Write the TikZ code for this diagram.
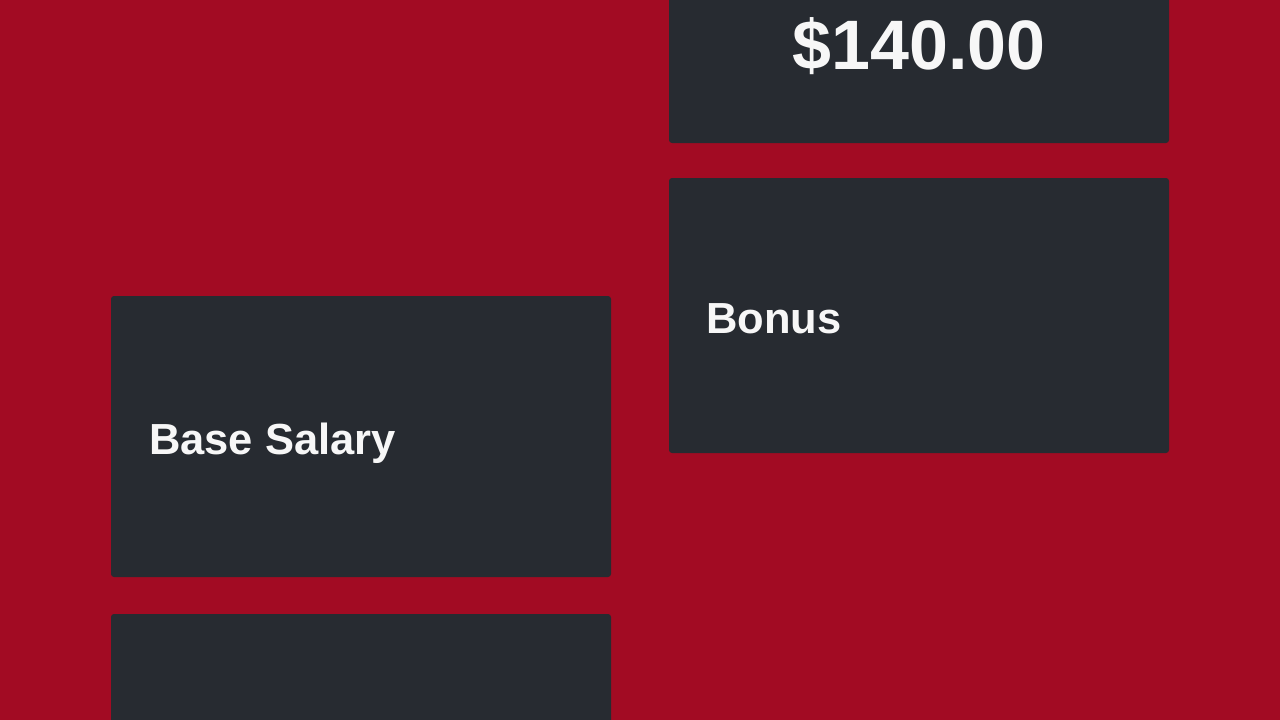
\documentclass[tikz,border=0pt]{standalone}
\usepackage{fontspec}
\setmainfont{Liberation Sans}
\definecolor{bgred}{HTML}{A20B23}
\definecolor{card}{HTML}{272B31}
\definecolor{txt}{HTML}{F7F7F7}
\begin{document}
\begin{tikzpicture}[x=1pt,y=-1pt,
  cardbox/.style={fill=card, draw=none, rounded corners=3pt},
  label/.style={text=txt, font=\bfseries\fontsize{43.5}{50}\selectfont, inner sep=0pt, anchor=base west},
  bigval/.style={text=txt, font=\bfseries\fontsize{70}{80}\selectfont, inner sep=0pt, anchor=base}]
\useasboundingbox (0,0) rectangle (1280,720);
\fill[bgred] (0,0) rectangle (1280,720);
% cards
\path[cardbox] (669,-10) rectangle (1169,143);
\path[cardbox] (669,178) rectangle (1169,453);
\path[cardbox] (111,296) rectangle (611,577);
\path[cardbox] (111,614) rectangle (611,740);
% texts
\node[bigval] (amount) at (919,69) {\$140.00};
\node[label] (bonus) at (706,333) {Bonus};
\node[label] (base) at (149,454) {Base Salary};
\end{tikzpicture}
\end{document}
